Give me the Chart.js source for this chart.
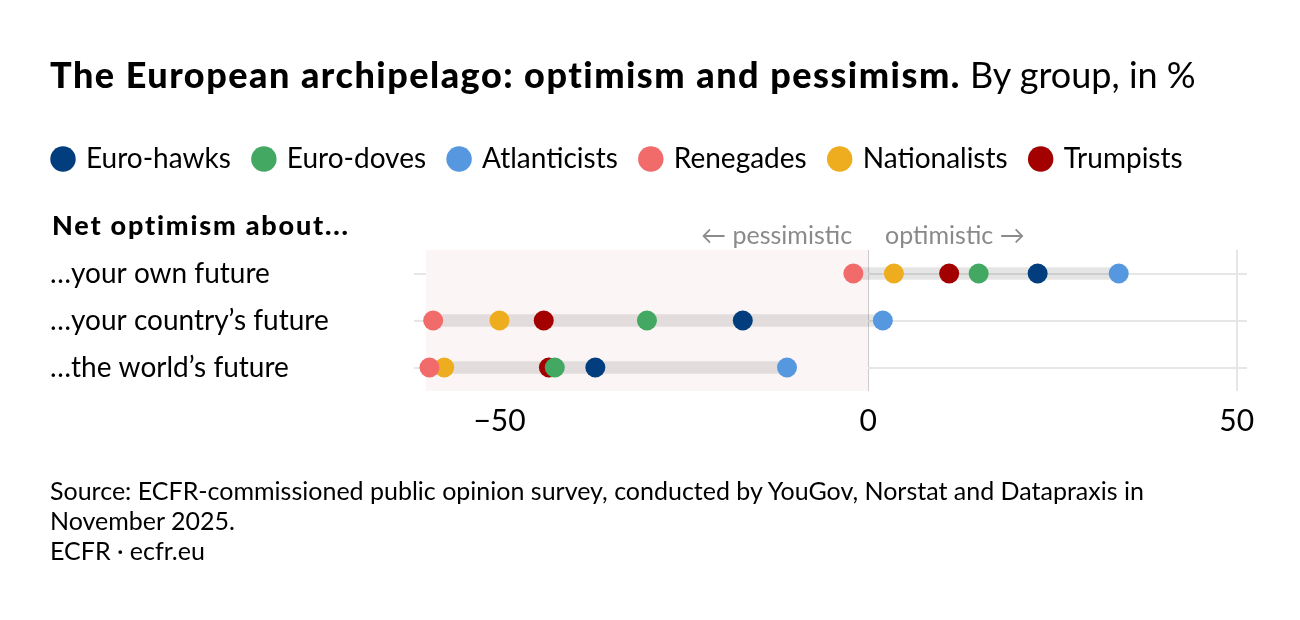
<!DOCTYPE html>
<html>
<head>
<meta charset="utf-8">
<script src="https://cdn.jsdelivr.net/npm/chart.js@4.4.1/dist/chart.umd.min.js"></script>
<style>
  body { margin: 0; background: #fff; font-family: Lato, sans-serif; }
  #wrap { position: relative; width: 1300px; height: 620px; }
  #chart { position: absolute; left: 0; top: 0; }
  .title { position: absolute; left: 50px; top: 52px; font-size: 36px; color: #000; white-space: nowrap; }
  .title b { font-weight: 900; letter-spacing: 1.5px; }
  .source { position: absolute; left: 50px; top: 475px; font-size: 25px; line-height: 30px; color: #000; width: 1150px; }
</style>
</head>
<body>
<div id="wrap">
  <canvas id="chart" width="1300" height="620"></canvas>
  <div class="title"><b>The European archipelago: optimism and pessimism.</b> By group, in %</div>
  <div class="source">Source: ECFR-commissioned public opinion survey, conducted by YouGov, Norstat and Datapraxis in November 2025.<br>ECFR · ecfr.eu</div>
</div>
<script>
const questions = ['…your own future', '…your country’s future', '…the world’s future'];
const groups = ['Euro-hawks', 'Euro-doves', 'Atlanticists', 'Renegades', 'Nationalists', 'Trumpists'];
const colors = ['#023e7d', '#43a862', '#5598e0', '#f26b6b', '#edad1e', '#a30000'];

// net optimism per group, one value per question
const euroHawks    = [23, -17, -37];
const euroDoves    = [15, -30, -42.5];
const atlanticists = [34, 2, -11];
const renegades    = [-2, -59, -59.5];
const nationalists = [3.5, -50, -57.5];
const trumpists    = [11, -44, -43.3];

const xTicks = [-50, 0, 50];
const xMin = -61.6, xMax = 51.4;
const shadeFrom = -60, shadeTo = 0;

const seriesValues = [euroHawks, euroDoves, atlanticists, renegades, nationalists, trumpists];
const ranges = questions.map((q, i) => {
  const vals = seriesValues.map(s => s[i]);
  return [Math.min(...vals), Math.max(...vals)];
});

const dotSets = groups.map((g, k) => ({
  type: 'line',
  label: g,
  data: seriesValues[k],
  showLine: false,
  pointRadius: 10,
  pointHoverRadius: 10,
  pointBorderWidth: 0,
  backgroundColor: colors[k],
  borderColor: colors[k]
}));

const decor = {
  id: 'decor',
  beforeDatasetsDraw(chart) {
    const {ctx, chartArea, scales: {x}} = chart;
    // pink shading behind the pessimistic side
    ctx.save();
    ctx.fillStyle = '#fcf5f5';
    const l = x.getPixelForValue(shadeFrom), r = x.getPixelForValue(shadeTo);
    ctx.fillRect(l, chartArea.top, r - l, chartArea.bottom - chartArea.top);
    ctx.restore();
  },
  beforeDraw(chart) {
    const {ctx, chartArea, scales: {x}} = chart;
    ctx.save();
    ctx.fillStyle = '#000';
    ctx.font = '900 27px Lato';
    ctx.letterSpacing = '1.8px';
    ctx.textBaseline = 'middle';
    ctx.textAlign = 'left';
    ctx.fillText('Net optimism about...', 52, chartArea.top - 24);
    ctx.letterSpacing = '0px';
    ctx.fillStyle = '#8a8a8a';
    ctx.font = '25px Lato';
    const zx = x.getPixelForValue(0);
    ctx.textAlign = 'right';
    ctx.fillText('← pessimistic', zx - 16, chartArea.top - 14);
    ctx.textAlign = 'left';
    ctx.fillText('optimistic →', zx + 17, chartArea.top - 14);
    ctx.restore();
  }
};

new Chart(document.getElementById('chart'), {
  type: 'bar',
  data: {
    labels: questions,
    datasets: [
      ...dotSets,
      {
        type: 'bar',
        label: 'range',
        data: ranges,
        backgroundColor: 'rgba(0,0,0,0.1)',
        barThickness: 12,
        borderWidth: 0,
        borderSkipped: false
      }
    ]
  },
  options: {
    responsive: false,
    animation: false,
    indexAxis: 'y',
    layout: { padding: { left: 50, right: 53, top: 128, bottom: 169 } },
    scales: {
      x: {
        type: 'linear',
        min: xMin,
        max: xMax,
        afterBuildTicks: axis => { axis.ticks = xTicks.map(v => ({ value: v })); },
        ticks: {
          padding: 12,
          color: '#000',
          font: { family: 'Lato', size: 30 },
          callback: v => v < 0 ? '−' + Math.abs(v) : String(v)
        },
        grid: {
          drawTicks: false,
          lineWidth: 2,
          color: c => c.tick && c.tick.value === 0 ? '#c8c8c8' : '#e6e6e6'
        },
        border: { display: false }
      },
      y: {
        afterFit: axis => { axis.width = 364; },
        ticks: {
          crossAlign: 'far',
          color: '#000',
          font: { family: 'Lato', size: 28 },
          padding: 0
        },
        grid: { offset: false, drawTicks: false, lineWidth: 2, color: '#e6e6e6' },
        border: { display: false }
      }
    },
    plugins: {
      tooltip: { enabled: false },
      legend: {
        position: 'top',
        align: 'start',
        labels: {
          usePointStyle: true,
          pointStyle: 'circle',
          boxHeight: 18,
          boxWidth: 18,
          padding: 24,
          color: '#000',
          font: { family: 'Lato', size: 28 },
          filter: item => item.text !== 'range'
        }
      }
    }
  },
  plugins: [decor, {
    id: 'legendShift',
    beforeInit(chart) {
      const lg = chart.legend;
      const fit = lg.fit, draw = lg.draw;
      lg.fit = function () { fit.call(lg); lg.height += 60; };
      lg.draw = function () {
        const ctx = chart.ctx;
        ctx.save();
        ctx.translate(-20, -7);
        draw.call(lg);
        ctx.restore();
      };
    }
  }]
});
</script>
</body>
</html>
